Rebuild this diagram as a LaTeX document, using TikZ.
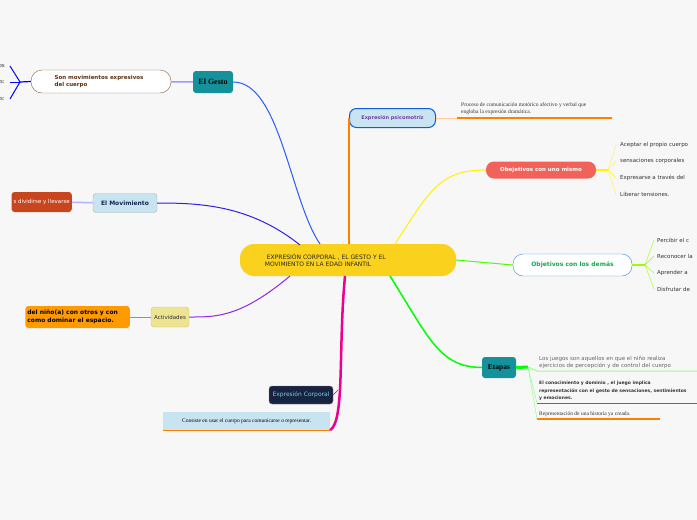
\documentclass[tikz,border=0pt]{standalone}
\usepackage{fontspec}
\setmainfont{DejaVu Sans}
\newfontfamily\serifx{Liberation Serif}
\definecolor{gblue}{RGB}{40,90,255}
\definecolor{mblue}{RGB}{50,30,230}
\definecolor{apurp}{RGB}{140,40,230}
\definecolor{alpurp}{RGB}{160,120,255}
\definecolor{epurp}{RGB}{130,80,170}
\begin{document}
\begin{tikzpicture}[x=1pt,y=-1pt,
 box/.style={rounded corners=3pt,inner sep=2pt,font=\fontsize{6}{7}\selectfont},
 conn/.style={line width=1pt},
 item/.style={font=\fontsize{5.5}{7}\selectfont,anchor=west,inner sep=1pt,text=black!80}]
\useasboundingbox (0,0) rectangle (697,520);
\fill[black!3] (0,0) rectangle (697,520);
\clip (0,0) rectangle (697,520);
% center
\node[box,fill={rgb,255:red,250;green,210;blue,30},rounded corners=14pt,minimum width=216pt,minimum height=32pt,align=left,text=black!85] (c) at (348,260) {\hspace*{2pt}EXPRESIÓN CORPORAL , EL GESTO Y EL\\MOVIMIENTO EN LA EDAD INFANTIL\hspace*{60pt}};
% El Gesto
\node[box,fill={rgb,255:red,20;green,145;blue,155},minimum width=40pt,minimum height=22pt,font=\serifx\bfseries\fontsize{8}{9}\selectfont] (g) at (213,82) {El Gesto};
\node[box,draw={rgb,255:red,140;green,100;blue,70},fill=white,rounded corners=11pt,minimum width=140pt,minimum height=23pt,align=left,text={rgb,255:red,90;green,50;blue,20},font=\bfseries\fontsize{5.5}{7}\selectfont] (s) at (101,81.5) {Son movimientos expresivos\\del cuerpo\hspace*{60pt}};
\draw[blue!40,line width=1.5pt] (s) -- (g);
\draw[gblue,conn] (320,244) .. controls (290,200) and (280,82) .. (g.east);
\coordinate (fk) at (20,82);
\draw[blue,line width=1.2pt] (s.west) -- (fk);
\foreach \y/\t in {66/os,82/s:,99/s:}{\draw[blue,line width=1pt] (fk) -- (10,\y);
 \node[item,anchor=east] at (6,\y) {\t};}
% Movimiento
\node[box,draw=gray!60,fill={rgb,255:red,200;green,228;blue,240},minimum width=64pt,minimum height=19pt,text={rgb,255:red,20;green,40;blue,80},font=\bfseries\fontsize{6}{7}\selectfont] (m) at (125,203) {El Movimiento};
\node[box,fill={rgb,255:red,200;green,70;blue,30},minimum height=20pt,text=white,anchor=east,font=\fontsize{5.5}{7}\selectfont] (mo) at (72,202) {s dividirse y llevarse};
\draw[blue!30,line width=1.5pt] (mo) -- (m);
\draw[mblue,conn] (300,245) .. controls (250,205) and (200,203) .. (m.east);
% Actividades
\node[box,draw={rgb,255:red,210;green,200;blue,110},fill={rgb,255:red,236;green,228;blue,145},minimum width=38pt,minimum height=20pt,font=\fontsize{5.5}{7}\selectfont,text=black!80] (a) at (170,317) {Actividades};
\node[box,fill={rgb,255:red,255;green,155;blue,0},minimum height=22pt,anchor=east,align=left,font=\bfseries\fontsize{6}{7.5}\selectfont,text=black] (ao) at (130,317) {del niño(a) con otros y con\\como dominar el espacio.\hspace*{14pt}};
\draw[alpurp,line width=1pt] (ao) -- (a);
\draw[apurp,conn] (290,276) .. controls (240,318) and (215,317) .. (a.east);
% Expresion Corporal
\node[box,draw=gray,fill={rgb,255:red,25;green,35;blue,65},minimum width=64pt,minimum height=18pt,text={rgb,255:red,110;green,210;blue,220}] (e) at (301,395) {Expresión Corporal};
\node[fill={rgb,255:red,200;green,228;blue,240},minimum width=167pt,minimum height=18pt,inner sep=1pt,font=\serifx\fontsize{5.5}{7}\selectfont] (eb) at (246.5,421) {Consiste en usar el cuerpo para comunicarse o representar.};
\draw[orange,line width=1.2pt] (eb.south west) -- (eb.south east);
\draw[magenta,line width=2.5pt] (345,276) .. controls (338,350) and (345,420) .. (eb.south east);
\draw[magenta,line width=0.6pt] (338,390) -- (e.east);
% psicomotriz
\node[box,draw={rgb,255:red,20;green,90;blue,220},line width=1pt,rounded corners=7pt,fill={rgb,255:red,200;green,228;blue,240},minimum width=86pt,minimum height=19pt,text={rgb,255:red,120;green,60;blue,170},font=\bfseries\fontsize{5}{6}\selectfont] (p) at (392.5,118) {Expresión psicomotriz};
\draw[orange,line width=1.5pt] (349,244) -- (349,118) -- (p.west);
\node[anchor=south west,inner sep=1pt,align=left,font=\serifx\fontsize{5.5}{7}\selectfont,text=black!80] (pt) at (460,116) {Proceso de comunicación motórico afectivo y verbal que\\engloba la expresión dramática.};
\draw[orange!40,line width=1pt] (p.east) -- (457,118);
\draw[orange,line width=1.5pt] (457,118) -- (612,118);
% Objetivos uno mismo
\node[box,fill={rgb,255:red,240;green,98;blue,90},rounded corners=8pt,minimum width=110pt,minimum height=17pt,text=white,font=\bfseries\fontsize{5.5}{7}\selectfont] (o1) at (541,170) {Obejetivos con uno mismo};
\draw[yellow,conn] (395,244) .. controls (430,190) and (440,170) .. (o1.west);
\coordinate (f1) at (608,170);
\draw[yellow,line width=2pt] (o1.east) -- (f1);
\foreach \y/\t in {145/Aceptar el propio cuerpo,161/sensaciones corporales,178/Expresarse a través del,194/Liberar tensiones.}{\draw[yellow!80] (f1) -- (616,\y);\node[item] at (619,\y) {\t};}
% Objetivos demas
\node[box,draw={rgb,255:red,60;green,140;blue,220},fill=white,rounded corners=10pt,minimum width=119pt,minimum height=22pt,text={rgb,255:red,20;green,170;blue,80},font=\bfseries\fontsize{6}{7}\selectfont] (o2) at (572.5,265) {Objetivos con los demás};
\draw[green!60!lime,conn] (c.east) -- (o2.west);
\coordinate (f2) at (645,265);
\draw[lime!80!green,line width=2pt] (o2.east) -- (f2);
\foreach \y/\t in {240/Percibir el c,256/Reconocer la,273/Aprender a,289/Disfrutar de}{\draw[lime!80!green] (f2) -- (654,\y);\node[item] at (656,\y) {\t};}
% Etapas
\node[box,fill={rgb,255:red,20;green,145;blue,155},minimum width=34pt,minimum height=21pt,font=\serifx\bfseries\fontsize{7.5}{9}\selectfont] (et) at (499,367.5) {Etapas};
\draw[green,line width=1.5pt] (390,276) .. controls (430,340) and (440,367) .. (et.west);
\coordinate (f3) at (528,367);
\draw[green,line width=3pt] (et.east) -- (f3);
\draw[green!40,line width=1pt] (f3) -- (537,371) -- (697,371);
\draw[green!50] (f3) -- (537,403);
\draw[green!50] (f3) -- (537,419);
\node[item,anchor=south west,align=left,text=black!60,font=\fontsize{5.5}{7}\selectfont] at (538,370) {Los juegos son aquellos en que el niño realiza\\ejercicios de percepción y de control del cuerpo};
\node[item,anchor=south west,align=left,font=\bfseries\fontsize{4.5}{7.5}\selectfont] at (538,402) {El conocimiento y dominio , el juego implica\\representación con el gesto de sensaciones, sentimientos\\y emociones.};
\draw[epurp,line width=1pt] (537,403) -- (697,403);
\node[item,anchor=south west,font=\serifx\fontsize{5.5}{7}\selectfont] at (538,418) {Representación de una historia ya creada.};
\draw[orange,line width=1.5pt] (537,419) -- (660,419);
\end{tikzpicture}
\end{document}
